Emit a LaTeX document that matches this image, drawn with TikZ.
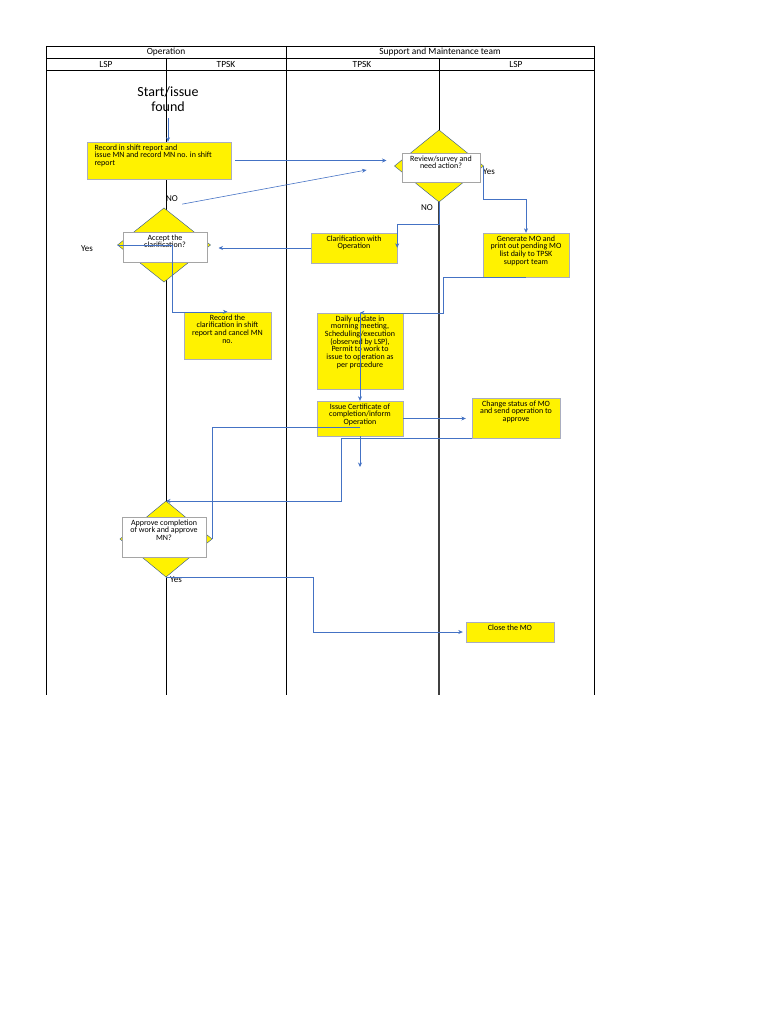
\documentclass[tikz,border=0pt]{standalone}
\usepackage{fontspec}
\setmainfont{Carlito}
\usetikzlibrary{shapes.geometric,arrows.meta}
\definecolor{flowblue}{HTML}{4472C4}
\definecolor{boxedge}{HTML}{A9ADBF}
\definecolor{askedge}{HTML}{A5A5A5}
\definecolor{diaedge}{HTML}{2F528F}
\definecolor{laneline}{HTML}{404040}

\begin{document}
\begin{tikzpicture}[x=1pt,y=-1pt,>={Stealth[length=4.5pt,width=4pt]},
  hdr/.style={font=\fontsize{9.4}{10}\selectfont, inner sep=0pt},
  box/.style={draw=boxedge, fill=yellow, inner sep=0pt},
  boxtxt/.style={font=\fontsize{8}{7.7}\selectfont, align=center, inner sep=2.5pt},
  decide/.style={diamond, draw=diaedge, fill=yellow, inner sep=0pt, outer sep=0pt},
  ask/.style={draw=askedge, fill=white, inner sep=0pt},
  tag/.style={font=\fontsize{9}{10}\selectfont, inner sep=0pt},
  flow/.style={->, draw=flowblue, line width=0.6pt},
  link/.style={draw=flowblue, line width=0.6pt}]
  \useasboundingbox (0,0) rectangle (768,1024);

  % lanes
  \foreach \x in {46,286,594} {
    \draw[line width=0.7pt] (\x,46) -- (\x,695);
  }
  \draw[line width=0.7pt] (46,46) -- (594,46) (46,58) -- (594,58) (46,70) -- (594,70);
  \draw[line width=0.7pt] (166,58) -- (166,695);
  \draw[line width=0.7pt] (439,58) -- (439,130);
  \draw[laneline, line width=1.3pt] (439,130) -- (439,695);

  \node[hdr] (hop) at (166,52) {Operation};
  \node[hdr] (hsm) at (440,52) {Support and Maintenance team};
  \node[hdr] (hlspa) at (106,64) {LSP};
  \node[hdr] (htpska) at (226,64) {TPSK};
  \node[hdr] (htpskb) at (362,64) {TPSK};
  \node[hdr] (hlspb) at (516,64) {LSP};

  % steps
  \node[font=\fontsize{14}{14.5}\selectfont, align=center, inner sep=0pt] (start) at (168,99) {Start/issue\\found};
  \node[box, minimum width=144, minimum height=37,
    label={[boxtxt, align=left, anchor=north west, xshift=5pt]north west:{Record in shift report and\\issue MN and record MN no. in shift\\report}}] (rec) at (159,160.5) {};

  \node[decide, minimum width=89, minimum height=72] (rev) at (439,166) {};
  \node[ask, minimum width=78, minimum height=29,
    label={[boxtxt, anchor=north]north:{Review/survey and\\need action?}}] (revq) at (441,167.5) {};

  \node[decide, minimum width=93, minimum height=74] (acc) at (164,245) {};
  \node[ask, minimum width=84, minimum height=30,
    label={[boxtxt, anchor=north]north:{Accept the\\clarification?}}] (accq) at (165,247) {};

  \node[box, minimum width=86, minimum height=30,
    label={[boxtxt, anchor=north]north:{Clarification with\\Operation}}] (clar) at (354,248) {};
  \node[box, minimum width=86, minimum height=44,
    label={[boxtxt, anchor=north]north:{Generate MO and\\print out pending MO\\list daily to TPSK\\support team}}] (gen) at (526,255) {};
  \node[box, minimum width=87, minimum height=47,
    label={[boxtxt, anchor=north]north:{Record the\\clarification in shift\\report and cancel MN\\no.}}] (recc) at (227.5,335.5) {};
  \node[box, minimum width=86, minimum height=76,
    label={[boxtxt, anchor=north]north:{Daily update in\\morning meeting,\\Scheduling/execution\\(observed by LSP),\\Permit to work to\\issue to operation as\\per procedure}}] (daily) at (360,351) {};
  \node[box, minimum width=86, minimum height=35,
    label={[boxtxt, anchor=north]north:{Issue Certificate of\\completion/inform\\Operation}}] (iss) at (360,418.5) {};
  \node[box, minimum width=88, minimum height=40,
    label={[boxtxt, anchor=north]north:{Change status of MO\\and send operation to\\approve}}] (chg) at (516,418) {};

  \node[decide, minimum width=92, minimum height=76] (apr) at (166,539) {};
  \node[ask, minimum width=84, minimum height=40,
    label={[boxtxt, anchor=north]north:{Approve completion\\of work and approve\\MN?}}] (aprq) at (164,537) {};

  \node[box, minimum width=88, minimum height=20,
    label={[boxtxt, anchor=north]north:{Close the MO}}] (close) at (510,632) {};

  \node[tag] (noa) at (172,199) {NO};
  \node[tag] (nob) at (427,208) {NO};
  \node[tag] (yesa) at (489,172) {Yes};
  \node[tag] (yesb) at (87,249) {Yes};
  \node[tag] (yesc) at (176,580) {Yes};

  % connectors
  \draw[flow] ([yshift=-7pt]start.south) -- (start.south |- rec.north);
  \draw[flow, shorten <=4pt, shorten >=8pt] (rec.east) -- (rec.east -| rev.west);
  \draw[flow] ([xshift=4pt,yshift=-2pt]noa.south east) -- ([xshift=-28pt,yshift=-4pt]rev.west);
  \draw[flow] (rev.south) -- ++(0,22) -| ([yshift=-15pt]clar.north east);
  \draw[flow] (rev.east) -- ++(0,33) -| (gen.north);
  \coordinate (accR) at ([xshift=8pt]acc.east);
  \draw[flow] (clar.west) -- (clar.west -| accR);
  \draw[flow] (acc.west) -- ++(55,0) |- (recc.north);
  \draw[flow] (gen.south) -- ++(-83,0) |- (daily.north);
  \draw[flow] (daily.north) -- (iss.north);
  \draw[flow, shorten >=6pt] (iss.east) -- (iss.east -| chg.west);
  \coordinate (issend) at (360,467);
  \draw[flow] (iss.south) -- (issend);
  \draw[link] ([yshift=-8.5pt]iss.center) -| (apr.east);
  \draw[flow] (chg.south west) -- ++(-131,0) |- (apr.north);
  \draw[flow, shorten >=3pt] (apr.south) -- ++(147,0) |- (close.west);
\end{tikzpicture}
\end{document}
